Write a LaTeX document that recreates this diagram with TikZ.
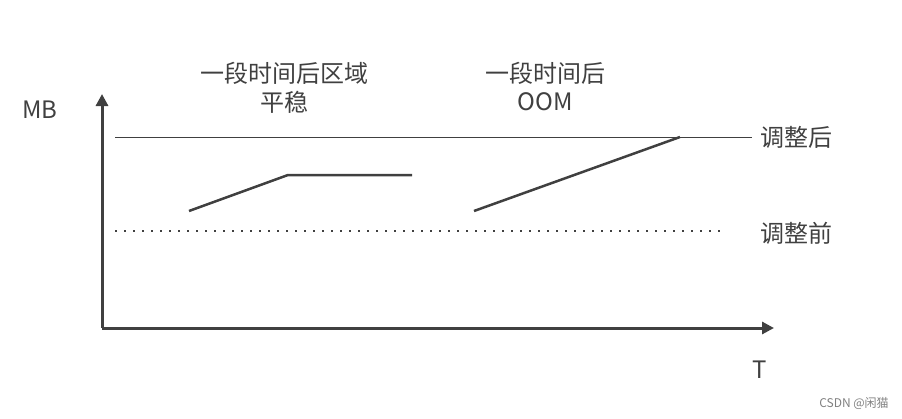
\documentclass[tikz,border=0pt]{standalone}
\usepackage{fontspec}
\setmainfont{Noto Sans CJK SC}
\usetikzlibrary{arrows.meta}
\definecolor{dk}{HTML}{404040}
\begin{document}
\begin{tikzpicture}[x=1pt,y=-1pt,
  lbl/.style={font=\fontsize{24}{28}\selectfont,text=dk,inner sep=0pt},
  axis/.style={draw=dk,line width=3pt,-{Triangle[length=12pt,width=12pt]}},
  seg/.style={draw=dk,line width=2.5pt}]
\useasboundingbox (0,0) rectangle (902,418);
\coordinate (o) at (102,328);
\coordinate (yt) at (102,94);
\coordinate (xt) at (774,328);
\draw[axis] (o) -- (yt);
\draw[axis] (o) -- (xt);
\coordinate (h1) at (115,137); \coordinate (h2) at (752,137);
\draw[dk,line width=1pt] (h1) -- (h2);
\coordinate (d1) at (115,231); \coordinate (d2) at (725,231);
\draw[dk,line width=1.6pt,dash pattern=on 2pt off 7pt] (d1) -- (d2);
\coordinate (a1) at (189,211); \coordinate (a2) at (288,175); \coordinate (a3) at (412,175);
\draw[seg] (a1) -- (a2) -- (a3);
\coordinate (b1) at (474,211); \coordinate (b2) at (680,137);
\draw[seg] (b1) -- (b2);
\node[lbl] (mb) at (40,110) {MB};
\node[lbl] (t) at (760,370) {T};
\node[lbl] (after) at (796,137) {调整后};
\node[lbl] (before) at (796,233) {调整前};
\node[lbl] (l1) at (284,73) {一段时间后区域};
\node[lbl] (l2) at (284,102) {平稳};
\node[lbl] (r1) at (545,73) {一段时间后};
\node[lbl] (r2) at (545,102) {OOM};
\node[font=\fontsize{12}{14}\selectfont,text=gray,inner sep=0pt] (wm) at (854,403) {CSDN @闲猫};
\end{tikzpicture}
\end{document}
